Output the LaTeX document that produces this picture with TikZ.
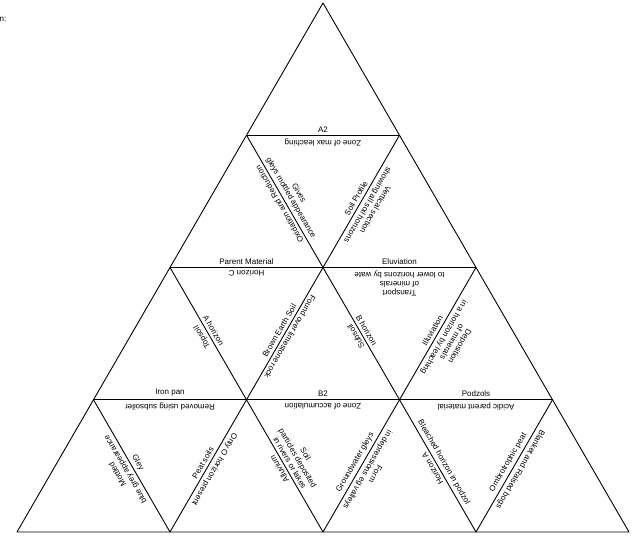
\documentclass[tikz,border=0pt]{standalone}
\usepackage{fontspec}
\setmainfont{Liberation Sans}

\begin{document}
\begin{tikzpicture}[x=1pt, y=1pt,
  font=\fontsize{8}{9}\selectfont,
  rejilla/.style={draw, line width=0.9pt, line join=round},
  lbl/.style={sloped, allow upside down, anchor=south, inner sep=3pt,
    align=center}]
\useasboundingbox (0,0) rectangle (640,540);
% vertices of the grid, row by row from the apex
\foreach \r in {0,...,4}
  \foreach \i in {0,...,\r}
    \coordinate (p\r\i) at ({323-76.5*\r+153*\i}, {537-132.25*\r});
% clipped caption in the corner
\node[anchor=base east, inner sep=0pt] (marca) at (6.5,518) {n:};
% big triangle and inner lines
\draw[rejilla] (p00) -- (p40) -- (p44) -- cycle;
\draw[rejilla] (p10) -- (p11) (p20) -- (p22) (p30) -- (p33);
\draw[rejilla] (p11) -- (p41) (p22) -- (p42) (p33) -- (p43);
\draw[rejilla] (p10) -- (p43) (p20) -- (p42) (p30) -- (p41);
% row 1
\path (p10) -- node[lbl] (a2) {A2} (p11);
% row 2
\path (p21) -- node[lbl] (oxred) {Oxidation and Reduction} (p10);
\path (p20) -- node[lbl] (parent) {Parent Material} (p21);
\path (p10) -- node[lbl] (gives) {Gives\\gleys mottled appearance} (p21);
\path (p21) -- node[lbl] (profile) {Soil Profile} (p11);
\path (p11) -- node[lbl] (maxleach) {Zone of max leaching} (p10);
\path (p11) -- node[lbl] (vertical) {Vertical section\\showing all soil horizons} (p21);
\path (p21) -- node[lbl] (eluv) {Eluviation} (p22);
% row 3
\path (p31) -- node[lbl] (topsoil) {Topsoil} (p20);
\path (p30) -- node[lbl] (ironpan) {Iron pan} (p31);
\path (p20) -- node[lbl] (ahor) {A horizon} (p31);
\path (p31) -- node[lbl] (brown) {Brown Earth Soil} (p21);
\path (p21) -- node[lbl] (horc) {Horizon C} (p20);
\path (p21) -- node[lbl] (limest) {Found over limestone rock} (p31);
\path (p31) -- node[lbl] (b2) {B2} (p32);
\path (p32) -- node[lbl] (subsoil) {Subsoil} (p21);
\path (p21) -- node[lbl] (bhor) {B horizon} (p32);
\path (p32) -- node[lbl] (illuv) {Illuviation} (p22);
\path (p22) -- node[lbl] (transp) {Transport\\of minerals\\to lower horizons by wate} (p21);
\path (p22) -- node[lbl] (depos) {Deposition\\of minerals\\in a horizon by leaching} (p32);
\path (p32) -- node[lbl] (podzols) {Podzols} (p33);
% row 4
\path (p41) -- node[lbl] (mottled) {Mottled\\blue grey appearance} (p30);
\path (p30) -- node[lbl] (gley) {Gley} (p41);
\path (p41) -- node[lbl] (peat) {Peat soils} (p31);
\path (p31) -- node[lbl] (subsoiler) {Removed using subsoiler} (p30);
\path (p31) -- node[lbl] (onlyo) {Only O horizon present} (p41);
\path (p42) -- node[lbl] (alluv) {Alluvium} (p31);
\path (p31) -- node[lbl] (partic) {Soil\\particles deposited\\in rivers or lakes} (p42);
\path (p42) -- node[lbl] (groundw) {Groundwater gleys} (p32);
\path (p32) -- node[lbl] (accum) {Zone of accumulation} (p31);
\path (p32) -- node[lbl] (form) {Form\\in depressions eg valleys} (p42);
\path (p43) -- node[lbl] (hora) {Horizon A} (p32);
\path (p32) -- node[lbl] (bleach) {Bleached horizon in podzol} (p43);
\path (p43) -- node[lbl] (ombro) {Ombrotrophic peat} (p33);
\path (p33) -- node[lbl] (acidic) {Acidic parent material} (p32);
\path (p33) -- node[lbl] (blanket) {Blanket and Raised bogs} (p43);
\end{tikzpicture}
\end{document}
